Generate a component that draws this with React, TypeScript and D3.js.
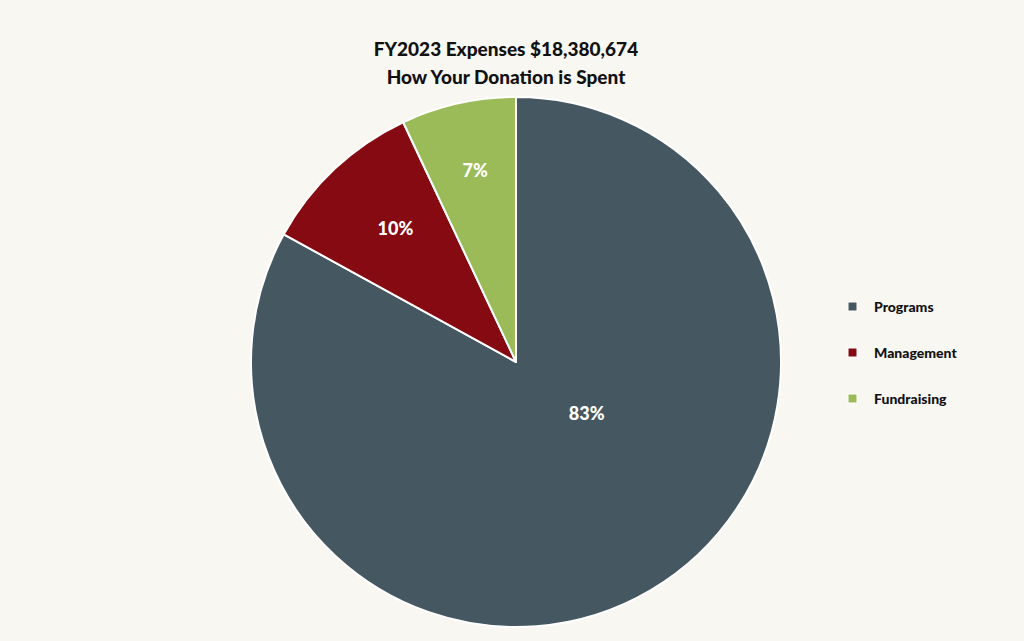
import React from 'react';
import * as d3 from 'd3';

const categories = ['Programs', 'Management', 'Fundraising'];
const shares = [83, 10, 7];
const colors = ['#455861', '#850a12', '#9bbb59'];
const titleLines = ['FY2023 Expenses $18,380,674', 'How Your Donation is Spent'];

const width = 1024;
const height = 641;
const cx = 516;
const cy = 362;
const radius = 265;
const font = 'Lato, "Open Sans", sans-serif';

// label placement: angle (deg, clockwise from top) and fraction of radius
const labelPlace = [
    { angle: 126, frac: 0.33 },
    { angle: 318, frac: 0.68 },
    { angle: 348, frac: 0.74 },
];

const App: React.FC = () => {
    const data = categories.map((c, i) => ({ category: c, value: shares[i] }));

    const pie = d3.pie<{ category: string; value: number }>()
        .value(d => d.value)
        .sort(null);

    const arc = d3.arc<any>()
        .innerRadius(0)
        .outerRadius(radius);

    const arcs = pie(data);

    const legendY = d3.scalePoint<string>()
        .domain(categories)
        .range([306, 398]);

    return (
        <svg width={width} height={height} style={{ display: 'block', position: 'absolute', left: 0, top: 0 }}>
            <rect width={width} height={height} fill="#f8f7f2" />
            {titleLines.map((t, i) => (
                <text key={t} x={506} y={56 + i * 28} textAnchor="middle"
                    fontFamily={font} fontWeight={900} fontSize={19} fill="#111">
                    {t}
                </text>
            ))}
            <g transform={`translate(${cx},${cy})`}>
                {arcs.map((a, i) => (
                    <path key={i} d={arc(a) || ''} fill={colors[i]} stroke="#fff" strokeWidth={2} strokeLinejoin="round" />
                ))}
                {arcs.map((a, i) => {
                    const ang = (labelPlace[i].angle * Math.PI) / 180;
                    const r = radius * labelPlace[i].frac;
                    return (
                        <text key={`l${i}`} x={Math.sin(ang) * r} y={-Math.cos(ang) * r}
                            textAnchor="middle" dominantBaseline="central"
                            fontFamily={font} fontWeight={900} fontSize={18} fill="#fff">
                            {`${a.data.value}%`}
                        </text>
                    );
                })}
            </g>
            {categories.map((c, i) => (
                <g key={c} transform={`translate(848,${legendY(c)})`}>
                    <rect x={0} y={-4} width={9} height={9} fill={colors[i]} stroke="#fff" strokeWidth={1} />
                    <text x={26} y={0} dominantBaseline="central" fontFamily={font}
                        fontWeight={900} fontSize={14} fill="#111">
                        {c}
                    </text>
                </g>
            ))}
        </svg>
    );
};

export default App;
